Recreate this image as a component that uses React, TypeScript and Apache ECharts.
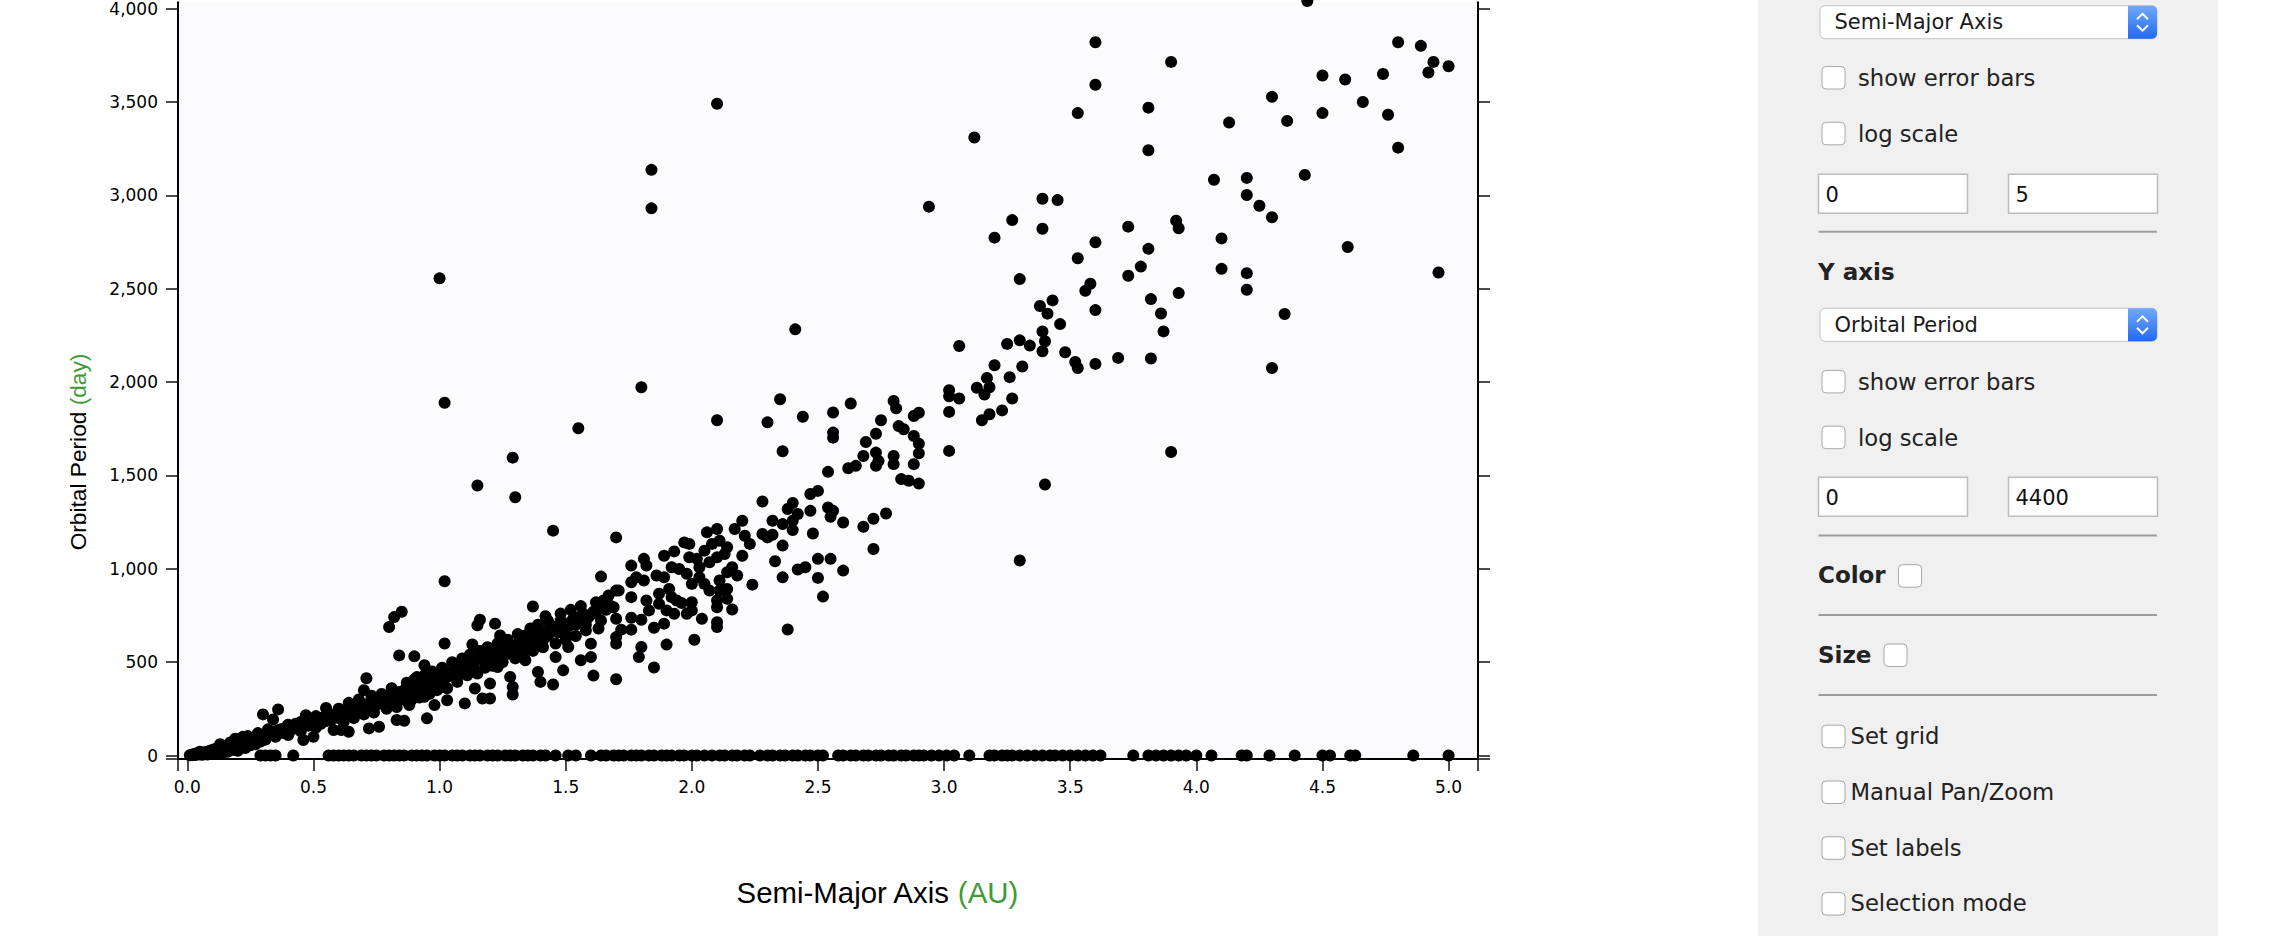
import React, { useEffect, useRef } from "react";
import * as echarts from "echarts";

// ---------- data ----------
const xTickValues = [0, 0.5, 1, 1.5, 2, 2.5, 3, 3.5, 4, 4.5, 5];
const yTickValues = [0, 500, 1000, 1500, 2000, 2500, 3000, 3500, 4000];
const X_MIN = -0.0369;
const X_MAX = 5.1166;
const Y_MIN = -18.7;
const Y_MAX = 4032.9; // value at the top edge of the visible plot area

// semi-major axis (AU), orbital period (day)
const innerPlanets: [number, number][] = [
  [0.01, 1], [0.02, 2], [0.02, 6], [0.03, 3], [0.03, 9], [0.04, 5], [0.04, 12], [0.05, 6], [0.05, 15], [0.05, 20],
  [0.06, 8], [0.06, 4], [0.07, 10], [0.07, 18], [0.08, 12], [0.08, 20], [0.08, 5], [0.09, 14], [0.09, 26], [0.1, 18],
  [0.1, 30], [0.1, 8], [0.11, 22], [0.11, 35], [0.12, 25], [0.12, 40], [0.12, 10], [0.13, 28], [0.13, 60], [0.14, 32],
  [0.14, 15], [0.14, 48], [0.15, 36], [0.15, 50], [0.16, 40], [0.16, 20], [0.17, 45], [0.17, 70], [0.18, 48], [0.18, 30],
  [0.19, 52], [0.19, 90], [0.2, 55], [0.2, 75], [0.2, 25], [0.21, 60], [0.22, 65], [0.22, 100], [0.23, 70], [0.23, 40],
  [0.24, 75], [0.24, 104], [0.25, 80], [0.25, 55], [0.26, 85], [0.27, 90], [0.27, 60], [0.28, 95], [0.28, 120], [0.29, 100],
  [0.29, 75], [0.3, 105], [0.3, 220], [0.31, 110], [0.31, 85], [0.32, 115], [0.32, 140], [0.33, 120], [0.34, 125], [0.34, 193],
  [0.35, 130], [0.35, 100], [0.36, 247], [0.36, 135], [0.37, 140], [0.38, 120], [0.39, 150], [0.4, 165], [0.4, 110], [0.41, 135],
  [0.42, 145], [0.43, 170], [0.44, 155], [0.45, 180], [0.45, 130], [0.46, 83], [0.47, 216], [0.47, 175], [0.48, 160], [0.49, 190],
  [0.5, 100], [0.5, 180], [0.51, 211], [0.51, 150], [0.52, 195], [0.53, 170], [0.54, 205], [0.55, 255], [0.55, 185], [0.57, 190],
  [0.57, 215], [0.58, 136], [0.59, 225], [0.6, 200], [0.61, 136], [0.61, 235], [0.62, 210], [0.63, 245], [0.64, 282], [0.64, 127],
  [0.65, 225], [0.66, 250], [0.67, 230], [0.68, 265], [0.69, 240], [0.7, 350], [0.7, 270], [0.71, 414], [0.71, 255], [0.72, 145],
  [0.72, 280], [0.73, 260], [0.74, 290], [0.75, 270], [0.76, 154], [0.76, 300], [0.77, 280], [0.78, 279], [0.78, 310], [0.79, 290],
  [0.8, 688], [0.8, 320], [0.81, 300], [0.82, 741], [0.82, 330], [0.83, 190], [0.83, 305], [0.84, 536], [0.84, 340], [0.85, 320],
  [0.85, 770], [0.86, 186], [0.86, 350], [0.87, 330], [0.88, 270], [0.88, 360], [0.89, 345], [0.9, 350], [0.9, 407], [0.9, 531],
  [0.91, 370], [0.92, 355], [0.93, 380], [0.94, 483], [0.94, 314], [0.95, 382], [0.95, 199], [0.95, 395], [0.96, 370], [0.97, 405],
  [0.98, 270], [0.98, 390], [0.99, 415],
  [0.6, 250], [0.62, 180], [0.66, 200], [0.68, 300], [0.7, 220], [0.73, 320], [0.74, 230], [0.77, 330], [0.79, 250], [0.81, 360],
  [0.83, 260], [0.86, 300], [0.87, 390], [0.89, 300], [0.91, 420], [0.92, 310], [0.94, 430], [0.96, 330], [0.97, 450], [0.99, 350],
];

const midPlanets: [number, number][] = [
  [1.0, 400], [1.0, 2555], [1.01, 430], [1.02, 367], [1.02, 600], [1.02, 933], [1.02, 1889], [1.03, 296], [1.03, 420], [1.04, 445],
  [1.05, 430], [1.06, 483], [1.07, 394], [1.08, 455], [1.09, 470], [1.1, 279], [1.1, 460], [1.11, 490], [1.12, 475], [1.13, 492],
  [1.13, 595], [1.14, 359], [1.14, 505], [1.15, 439], [1.15, 697], [1.15, 1446], [1.16, 727], [1.16, 520], [1.17, 527], [1.17, 305],
  [1.18, 500], [1.19, 536], [1.2, 305], [1.2, 385], [1.2, 540], [1.22, 706], [1.21, 510], [1.22, 555], [1.23, 474], [1.24, 643],
  [1.24, 560], [1.25, 530], [1.26, 575], [1.27, 545], [1.28, 421], [1.28, 590], [1.29, 367], [1.29, 327], [1.29, 1595], [1.3, 570],
  [1.3, 1383], [1.31, 600], [1.32, 610], [1.33, 585], [1.34, 643], [1.34, 510], [1.35, 620], [1.36, 600], [1.37, 798], [1.38, 581],
  [1.38, 640], [1.39, 447], [1.4, 394], [1.4, 650], [1.41, 617], [1.42, 746], [1.42, 665], [1.43, 640], [1.44, 679], [1.45, 380],
  [1.45, 690], [1.45, 1204], [1.46, 527], [1.47, 660], [1.48, 723], [1.49, 456], [1.49, 700], [1.5, 652], [1.51, 581], [1.51, 690],
  [1.52, 715], [1.53, 732], [1.54, 700], [1.55, 740], [1.55, 1752], [1.56, 510], [1.57, 759], [1.58, 670], [1.59, 740], [1.6, 527],
  [1.6, 599], [1.61, 428], [1.61, 770], [1.62, 760], [1.63, 790], [1.64, 723], [1.64, 958], [1.65, 830], [1.66, 780], [1.67, 857],
  [1.68, 800], [1.69, 794], [1.7, 883], [1.7, 408], [1.7, 599], [1.7, 1168], [1.7, 732], [1.72, 674], [1.7, 634], [1.71, 883],
  [1.76, 1017], [1.76, 928], [1.76, 848], [1.76, 738], [1.76, 674], [1.78, 954], [1.79, 527], [1.8, 1972], [1.8, 581], [1.8, 727],
  [1.81, 1053], [1.81, 937], [1.82, 1017], [1.82, 830], [1.83, 777], [1.84, 3136], [1.84, 2930], [1.85, 471], [1.85, 684], [1.86, 964],
  [1.87, 866], [1.87, 812], [1.89, 1070], [1.89, 954], [1.89, 706], [1.9, 777], [1.9, 594], [1.91, 892], [1.92, 1008], [1.92, 848],
  [1.93, 1093], [1.93, 759], [1.94, 830], [1.95, 999], [1.96, 816], [1.97, 1141], [1.98, 973], [1.98, 759], [1.99, 1133], [1.99, 1061],
  [1.01, 470], [1.03, 360], [1.05, 500], [1.07, 420], [1.09, 520], [1.11, 430], [1.12, 540], [1.14, 460], [1.16, 560], [1.18, 470],
  [1.19, 580], [1.21, 480], [1.23, 600], [1.25, 500], [1.27, 620], [1.3, 520], [1.31, 650], [1.33, 540], [1.36, 680], [1.37, 560],
  [1.39, 700], [1.41, 580], [1.43, 720], [1.46, 600], [1.48, 760], [1.5, 620], [1.52, 780], [1.54, 640], [1.56, 800], [1.58, 700],
  [1.62, 820], [1.63, 680],
];

const outerPlanets: [number, number][] = [
  [2.0, 919], [2.0, 777], [2.0, 821], [2.01, 620], [2.02, 1053], [2.03, 1008], [2.03, 954], [2.04, 732], [2.05, 1097], [2.05, 919],
  [2.06, 1195], [2.07, 1035], [2.07, 883], [2.08, 1133], [2.1, 3490], [2.1, 1795], [2.1, 1061], [2.1, 830], [2.1, 794], [2.1, 714],
  [2.1, 688], [2.1, 1213], [2.11, 1150], [2.11, 937], [2.11, 883], [2.13, 1079], [2.14, 1115], [2.14, 981], [2.14, 892], [2.14, 839],
  [2.16, 1008], [2.16, 782], [2.17, 1213], [2.18, 964], [2.2, 1257], [2.2, 1070], [2.21, 1177], [2.23, 1133], [2.24, 915], [2.28, 1360],
  [2.28, 1186], [2.3, 1784], [2.3, 1168], [2.32, 1257], [2.32, 1182], [2.33, 1040], [2.35, 1908], [2.36, 1629], [2.36, 1239], [2.36, 1124],
  [2.36, 954], [2.38, 1320], [2.38, 675], [2.4, 1352], [2.4, 1257], [2.4, 1207], [2.41, 2282], [2.42, 1293], [2.42, 996], [2.44, 1814],
  [2.45, 1008], [2.47, 1400], [2.47, 1310], [2.48, 1189], [2.5, 1417], [2.5, 1053], [2.5, 951], [2.52, 851], [2.54, 1328], [2.54, 1519],
  [2.55, 1278], [2.55, 1053], [2.56, 1310], [2.56, 1837], [2.56, 1729], [2.56, 1702], [2.6, 1248], [2.6, 990], [2.62, 1538], [2.63, 1885],
  [2.65, 1551], [2.68, 1604], [2.68, 1225], [2.69, 1679], [2.72, 1268], [2.72, 1106], [2.73, 1723], [2.73, 1622], [2.73, 1551], [2.74, 1577],
  [2.75, 1795], [2.77, 1296], [2.8, 1898], [2.8, 1604], [2.8, 1560], [2.81, 1859], [2.82, 1764], [2.83, 1480], [2.84, 1747], [2.86, 1471],
  [2.88, 1818], [2.88, 1711], [2.88, 1560], [2.9, 1835], [2.9, 1670], [2.9, 1618], [2.9, 1456], [2.94, 2939],
];

const farPlanets: [number, number][] = [
  [3.02, 1840], [3.02, 1631], [3.02, 1924], [3.02, 1956], [3.06, 1912], [3.06, 2193], [3.12, 3309], [3.13, 1969], [3.15, 1795], [3.16, 1933],
  [3.17, 2022], [3.18, 1827], [3.18, 1972], [3.2, 2773], [3.2, 2090], [3.23, 1848], [3.25, 2204], [3.26, 2026], [3.27, 1912], [3.27, 2867],
  [3.3, 2551], [3.3, 2223], [3.3, 1044], [3.31, 2083], [3.34, 2195], [3.38, 2407], [3.39, 2981], [3.39, 2821], [3.39, 2271], [3.39, 2165],
  [3.4, 2218], [3.4, 1451], [3.41, 2366], [3.43, 2437], [3.45, 2974], [3.46, 2310], [3.48, 2159], [3.52, 2107], [3.53, 3440], [3.53, 2663],
  [3.53, 2075], [3.56, 2488], [3.58, 2526], [3.6, 3819], [3.6, 3592], [3.6, 2748], [3.6, 2385], [3.6, 2097], [3.69, 2129], [3.73, 2832],
  [3.73, 2569], [3.78, 2618], [3.81, 3469], [3.81, 3241], [3.81, 2713], [3.82, 2444], [3.82, 2126], [3.86, 2367], [3.87, 2271], [3.9, 3714],
  [3.9, 1625], [3.92, 2864], [3.93, 2823], [3.93, 2476], [4.07, 3083], [4.1, 2769], [4.1, 2606], [4.13, 3389], [4.2, 3093], [4.2, 3001],
  [4.2, 2583], [4.2, 2494], [4.25, 2944], [4.3, 3527], [4.3, 2882], [4.3, 2075], [4.35, 2364], [4.36, 3398], [4.43, 3109], [4.44, 4040],
  [4.5, 3641], [4.5, 3440], [4.59, 3620], [4.6, 2723], [4.66, 3499], [4.74, 3649], [4.76, 3431], [4.8, 3819], [4.8, 3255], [4.89, 3800],
  [4.92, 3657], [4.94, 3714], [4.96, 2586], [5.0, 3691],
];

// planets whose period is missing (drawn at 0 days)
const zeroPeriodSMA: number[] = [
  0.29, 0.31, 0.33, 0.35, 0.42, 0.56, 0.58, 0.6, 0.62, 0.64, 0.66, 0.69, 0.71, 0.73, 0.75, 0.78, 0.8, 0.82, 0.84, 0.86,
  0.89, 0.91, 0.93, 0.95, 0.98, 1.0, 1.02, 1.05, 1.07, 1.09, 1.12, 1.14, 1.16, 1.19, 1.21, 1.23, 1.26, 1.28, 1.3, 1.33,
  1.35, 1.37, 1.4, 1.42, 1.46, 1.51, 1.54, 1.6, 1.64, 1.66, 1.69, 1.71, 1.73, 1.76, 1.78, 1.8, 1.83, 1.85, 1.88, 1.9,
  1.92, 1.95, 1.97, 2.0, 2.02, 2.05, 2.08, 2.11, 2.13, 2.16, 2.18, 2.21, 2.23, 2.27, 2.3, 2.32, 2.35, 2.37, 2.4, 2.42,
  2.45, 2.47, 2.5, 2.52, 2.58, 2.6, 2.63, 2.65, 2.68, 2.7, 2.73, 2.75, 2.78, 2.8, 2.83, 2.85, 2.88, 2.9, 2.92, 2.95,
  2.98, 3.01, 3.04, 3.1, 3.18, 3.2, 3.23, 3.25, 3.27, 3.3, 3.33, 3.36, 3.39, 3.42, 3.44, 3.47, 3.5, 3.53, 3.56, 3.59,
  3.62, 3.75, 3.81, 3.84, 3.87, 3.9, 3.93, 3.96, 4.0, 4.06, 4.18, 4.2, 4.29, 4.39, 4.5, 4.53, 4.61, 4.63, 4.86, 5.0,
];

const xAxisName = "Semi-Major Axis";
const xAxisUnit = "(AU)";
const yAxisName = "Orbital Period";
const yAxisUnit = "(day)";

// ---------- styling ----------
const FONT = '"DejaVu Sans", Verdana, sans-serif';
const TITLE_FONT = '"Liberation Sans", Arial, sans-serif';
const GREEN = "#3f9b35";
const PANEL_TEXT = "#222";

function checkbox(x: number, y: number) {
  return {
    type: "rect",
    shape: { x, y, width: 23, height: 22.5, r: 4 },
    style: { fill: "#fff", stroke: "#a9a9a9", lineWidth: 1 },
  };
}
function label(text: string, x: number, y: number, bold = false) {
  return {
    type: "text",
    style: {
      text,
      x,
      y,
      fill: PANEL_TEXT,
      fontSize: bold ? 23 : 22.7,
      fontWeight: bold ? "bold" : "normal",
      fontFamily: FONT,
      align: "left",
      verticalAlign: "middle",
    },
  };
}
function hr(y: number) {
  return {
    type: "rect",
    shape: { x: 1818.5, y: y - 1, width: 338.5, height: 2 },
    style: { fill: "#9c9c9c" },
  };
}
function input(x: number, y: number, value: string) {
  return [
    {
      type: "rect",
      shape: { x, y, width: 149, height: 39 },
      style: { fill: "#fff", stroke: "#bcbcbc", lineWidth: 1.5 },
    },
    {
      type: "text",
      style: {
        text: value,
        x: x + 7,
        y: y + 20.5,
        fill: "#111",
        fontSize: 21,
        fontFamily: FONT,
        align: "left",
        verticalAlign: "middle",
      },
    },
  ];
}
function select(y: number, text: string) {
  const h = 33;
  const cx = 2142.5;
  const cy = y + h / 2;
  return [
    {
      type: "rect",
      shape: { x: 1820, y, width: 337, height: h, r: 5 },
      style: { fill: "#fff", stroke: "#c4c4c4", lineWidth: 1 },
    },
    {
      type: "rect",
      shape: { x: 2128, y, width: 29, height: h, r: [0, 5, 5, 0] },
      style: {
        fill: new echarts.graphic.LinearGradient(0, 0, 0, 1, [
          { offset: 0, color: "#6eaafc" },
          { offset: 1, color: "#2369f0" },
        ]),
      },
    },
    {
      type: "polyline",
      shape: { points: [[cx - 5.5, cy - 3], [cx, cy - 8.5], [cx + 5.5, cy - 3]] },
      style: { stroke: "#fff", lineWidth: 2, fill: null },
    },
    {
      type: "polyline",
      shape: { points: [[cx - 5.5, cy + 3], [cx, cy + 8.5], [cx + 5.5, cy + 3]] },
      style: { stroke: "#fff", lineWidth: 2, fill: null },
    },
    {
      type: "text",
      style: {
        text,
        x: 1834.5,
        y: cy,
        fill: "#1a1a1a",
        fontSize: 21,
        fontFamily: FONT,
        align: "left",
        verticalAlign: "middle",
      },
    },
  ];
}

function buildPanel() {
  return [
    { type: "rect", shape: { x: 1758, y: 0, width: 460, height: 936 }, style: { fill: "#f0f0f0" } },
    ...select(5.7, "Semi-Major Axis"),
    checkbox(1822, 66.5),
    label("show error bars", 1858, 77.8),
    checkbox(1822, 122.3),
    label("log scale", 1858, 133.6),
    ...input(1818.5, 174.2, "0"),
    ...input(2008.5, 174.2, "5"),
    hr(231.7),
    label("Y axis", 1818, 271.7, true),
    ...select(308.3, "Orbital Period"),
    checkbox(1822, 370.4),
    label("show error bars", 1858, 381.7),
    checkbox(1822, 426.2),
    label("log scale", 1858, 437.5),
    ...input(1818.5, 477.3, "0"),
    ...input(2008.5, 477.3, "4400"),
    hr(535.4),
    label("Color", 1818, 575, true),
    checkbox(1898.5, 564.7),
    hr(615),
    label("Size", 1818, 654.8, true),
    checkbox(1884, 644),
    hr(694.9),
    checkbox(1822, 725.2),
    label("Set grid", 1850.5, 736),
    checkbox(1822, 781),
    label("Manual Pan/Zoom", 1850.5, 791.8),
    checkbox(1822, 836.8),
    label("Set labels", 1850.5, 847.6),
    checkbox(1822, 892.6),
    label("Selection mode", 1850.5, 903.4),
  ];
}

function buildTitles() {
  return [
    {
      type: "text",
      x: 877,
      y: 892,
      style: {
        text: `{a|${xAxisName}} {b|${xAxisUnit}}`,
        x: 0,
        y: 0,
        align: "center",
        verticalAlign: "middle",
        fontSize: 29.4,
        fontFamily: TITLE_FONT,
        fill: "#000",
        rich: {
          a: { fontSize: 29.4, fontFamily: TITLE_FONT, fill: "#000" },
          b: { fontSize: 29.4, fontFamily: TITLE_FONT, fill: GREEN },
        },
      },
    },
    {
      type: "text",
      x: 78,
      y: 452,
      rotation: Math.PI / 2,
      style: {
        text: `{a|${yAxisName}} {b|${yAxisUnit}}`,
        x: 0,
        y: 0,
        align: "center",
        verticalAlign: "middle",
        fontSize: 22.7,
        fontFamily: TITLE_FONT,
        fill: "#000",
        rich: {
          a: { fontSize: 22.7, fontFamily: TITLE_FONT, fill: "#000" },
          b: { fontSize: 22.7, fontFamily: TITLE_FONT, fill: GREEN },
        },
      },
    },
  ];
}

export default function App() {
  const ref = useRef<HTMLDivElement>(null);

  useEffect(() => {
    if (!ref.current) return;
    const chart = echarts.init(ref.current, undefined, { renderer: "svg" });

    const points: [number, number][] = [
      ...innerPlanets,
      ...midPlanets,
      ...outerPlanets,
      ...farPlanets,
      ...zeroPeriodSMA.map((x) => [x, 0] as [number, number]),
    ];

    const yAxisCommon = {
      type: "value",
      min: Y_MIN,
      max: Y_MAX,
      splitLine: { show: false },
      axisLine: { show: true, onZero: false, lineStyle: { color: "#000", width: 2 } },
      axisTick: {
        show: true,
        length: 12,
        customValues: [Y_MIN, ...yTickValues],
        lineStyle: { color: "#111", width: 1.5 },
      },
    };

    chart.setOption({
      animation: false,
      backgroundColor: "#ffffff",
      grid: {
        left: 178,
        top: 0,
        width: 1300,
        height: 759,
        show: true,
        backgroundColor: "#fbfbfd",
        borderWidth: 0,
        containLabel: false,
      },
      xAxis: {
        type: "value",
        min: X_MIN,
        max: X_MAX,
        position: "bottom",
        splitLine: { show: false },
        axisLine: { show: true, onZero: false, lineStyle: { color: "#000", width: 2 } },
        axisTick: {
          show: true,
          length: 12,
          customValues: [X_MIN, ...xTickValues, X_MAX],
          lineStyle: { color: "#111", width: 1.5 },
        },
        axisLabel: {
          customValues: xTickValues,
          formatter: (v: number) => v.toFixed(1),
          fontFamily: FONT,
          fontSize: 17,
          color: "#000",
          margin: 19,
        },
      },
      yAxis: [
        {
          ...yAxisCommon,
          position: "left",
          axisLabel: {
            customValues: yTickValues,
            formatter: (v: number) => v.toLocaleString("en-US"),
            fontFamily: FONT,
            fontSize: 17,
            color: "#000",
            margin: 20,
          },
        },
        {
          ...yAxisCommon,
          position: "right",
          axisLabel: { show: false },
        },
      ],
      series: [
        {
          type: "scatter",
          data: points,
          symbol: "circle",
          symbolSize: 12,
          itemStyle: { color: "#000", opacity: 1 },
          clip: false,
          silent: true,
        },
      ],
      graphic: [...buildTitles(), ...buildPanel()],
    });

    return () => chart.dispose();
  }, []);

  return (
    <div
      ref={ref}
      style={{ position: "fixed", left: 0, top: 0, width: 2284, height: 936, background: "#fff" }}
    />
  );
}
